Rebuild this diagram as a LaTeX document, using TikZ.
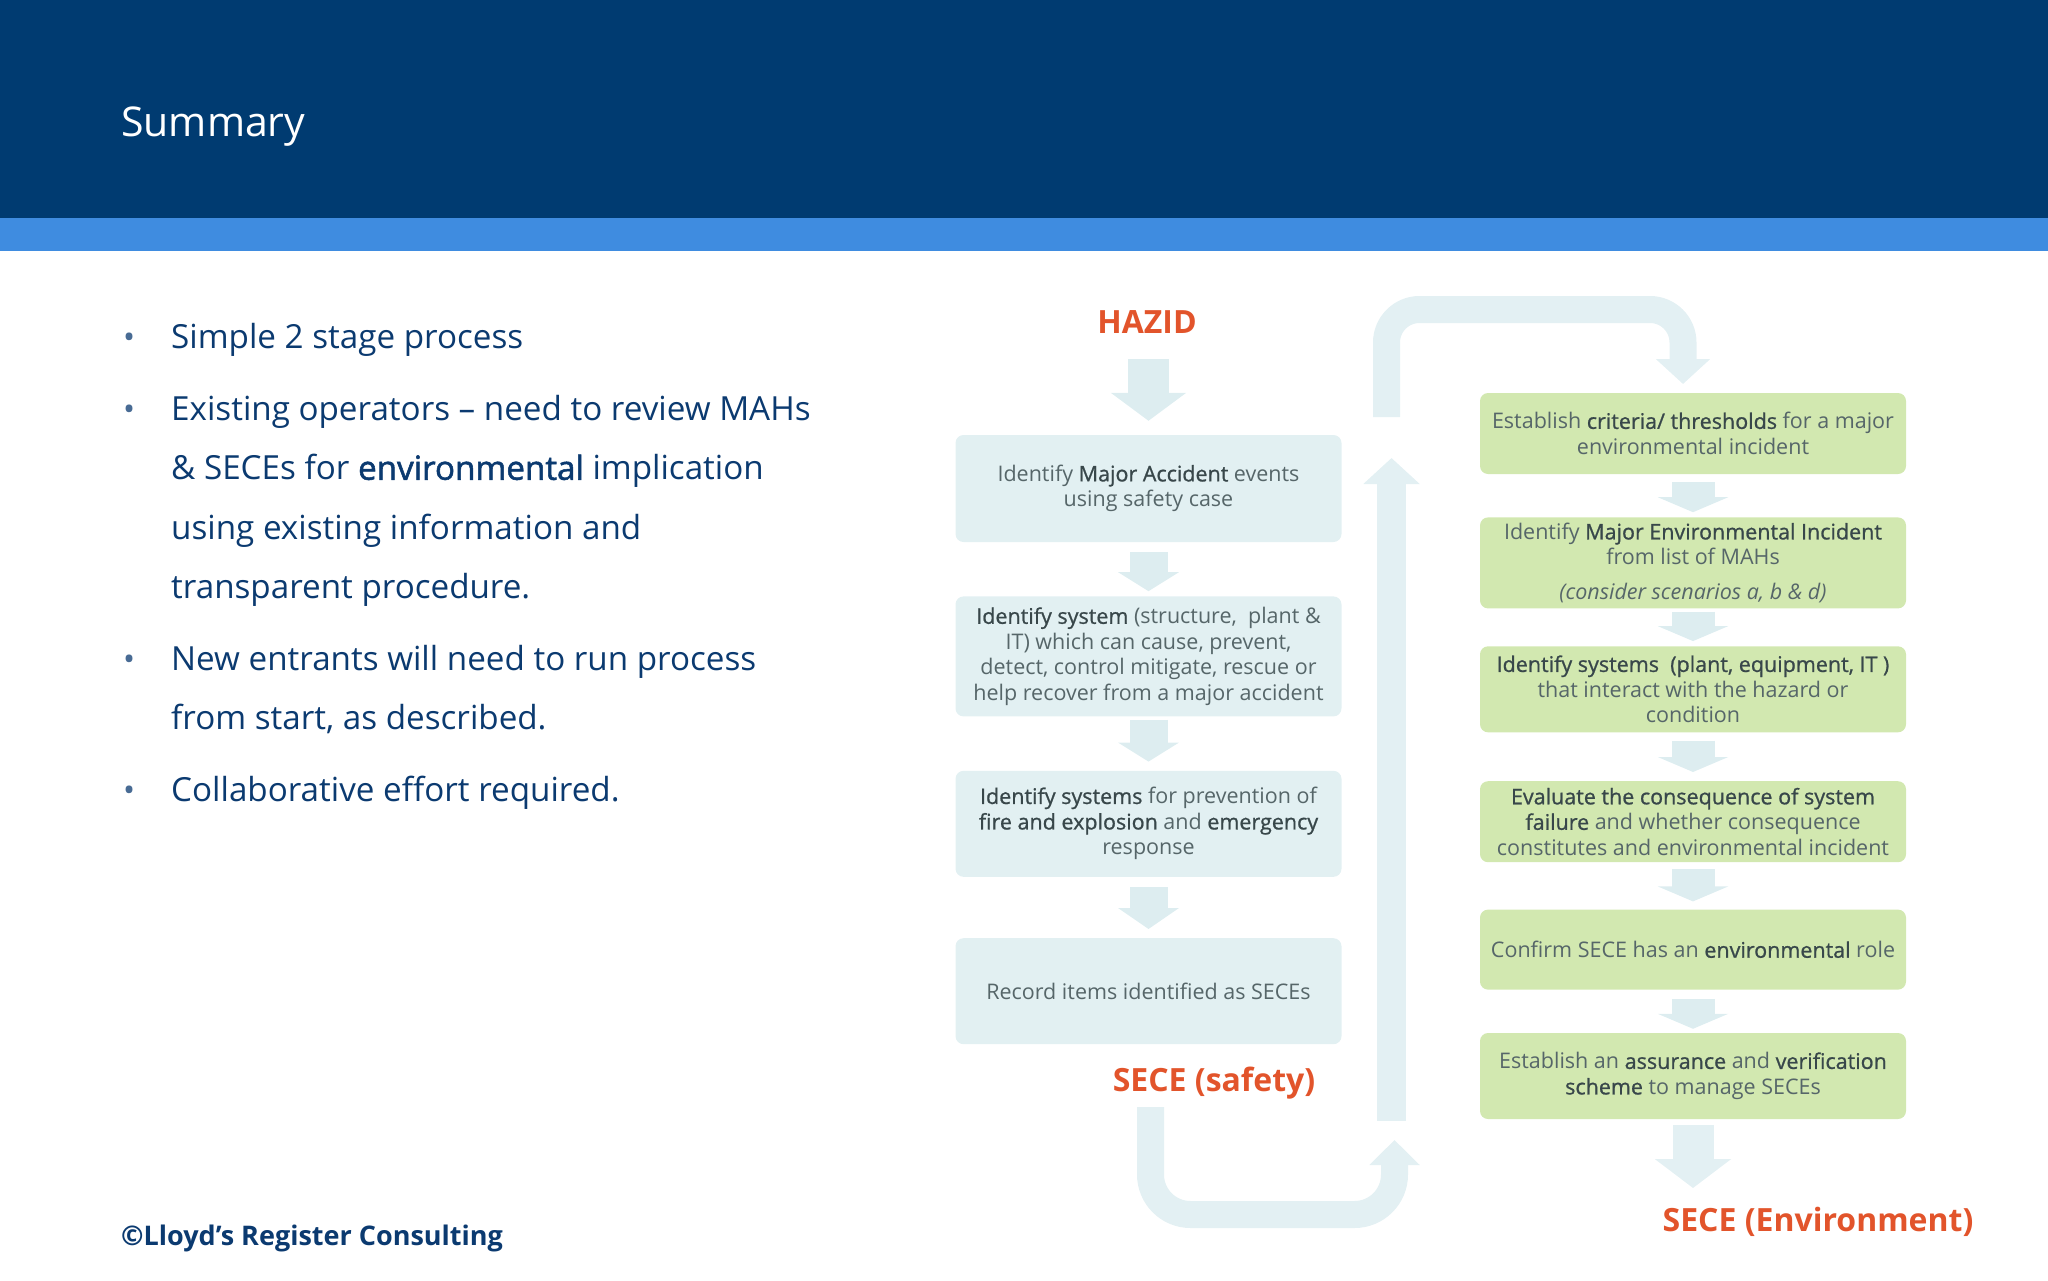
\documentclass[tikz,border=0pt]{standalone}
\usepackage{fontspec}
\setmainfont{Open Sans}
\newfontfamily\medfont[FakeBold=0.9]{Open Sans}
\newfontfamily\strongfont[FakeBold=1.6]{Open Sans}
\usetikzlibrary{positioning}
\usetikzlibrary{arrows.meta}
\definecolor{headnavy}{HTML}{003B71}
\definecolor{stripeblue}{HTML}{3F8CE0}
\definecolor{textnavy}{HTML}{0B3A70}
\definecolor{paleblue}{HTML}{E2F0F2}
\definecolor{palegreen}{HTML}{D2E8B0}
\definecolor{arrowblue}{HTML}{DDEDF0}
\definecolor{loopblue}{HTML}{E3F0F3}
\definecolor{boxtext}{HTML}{566669}
\definecolor{boldtext}{HTML}{38474A}
\definecolor{labelred}{HTML}{E2542B}
\newcommand{\bulletmark}{\llap{\fontsize{32}{32}\selectfont\textcolor{textnavy!75}{\textbullet}\hspace{36pt}}}
\newcommand{\hot}[1]{{\medfont\color{boldtext}#1}}
\tikzset{
  bluebox/.style={rectangle, rounded corners=8pt, fill=paleblue, minimum width=386pt, inner sep=0pt, text centered, text=boxtext, font=\fontsize{21.5}{25.5}\selectfont, align=center},
  greenbox/.style={rectangle, rounded corners=8pt, fill=palegreen, minimum width=426pt, inner sep=0pt, text centered, text=boxtext, font=\fontsize{21.5}{25.5}\selectfont, align=center},
  bullettext/.style={inner sep=0pt, text=textnavy, font=\fontsize{33.2}{59.5}\selectfont, align=left},
  stagelabel/.style={inner sep=0pt, text=labelred, font=\fontsize{32}{36}\selectfont\bfseries},
  blockarrow/.style n args={3}{draw=arrowblue, line width=#1, -{Triangle[width=#2,length=#3]}},
  smallarrow/.style={blockarrow={38pt}{60pt}{19pt}},
  greenarrow/.style={blockarrow={43pt}{70pt}{15pt}}
}
\begin{document}
\begin{tikzpicture}[x=1pt, y=-1pt]
    \useasboundingbox (0,0) rectangle (2048,1280);

    % Header
    \fill[headnavy] (0,0) rectangle (2048,218);
    \fill[stripeblue] (0,218) rectangle (2048,251);
    \node (title) [anchor=west, inner sep=0pt, text=white, font=\fontsize{41}{46}\selectfont] at (121,127) {Summary};

    % Bullets
    \node (point1) [bullettext, anchor=north west] at (171,307) {\strut\bulletmark Simple 2 stage process\strut};
    \node (point2) [bullettext, below=11.5pt of point1.south west, anchor=north west] {\strut\bulletmark Existing operators -- need to review MAHs\\
      \& SECEs for {\strongfont environmental} implication\\
      using existing information and\\
      transparent procedure.\strut};
    \node (point3) [bullettext, below=11.5pt of point2.south west, anchor=north west] {\strut\bulletmark New entrants will need to run process\\
      from start, as described.\strut};
    \node (point4) [bullettext, below=11.5pt of point3.south west, anchor=north west] {\strut\bulletmark Collaborative effort required.\strut};
    \node (footer) [anchor=west, inner sep=0pt, text=textnavy, font=\fontsize{27}{32}\selectfont\bfseries] at (121,1238) {©Lloyd’s Register Consulting};

    % Left column
    \node (accident) [bluebox, minimum height=107pt] at (1148.5,488.5) {Identify \hot{Major Accident} events\\using safety case};
    \node (system) [bluebox, minimum height=120pt, below=54pt of accident] {\hot{Identify system} (structure,~ plant \&\\IT) which can cause, prevent,\\detect, control mitigate, rescue or\\help recover from a major accident};
    \node (prevention) [bluebox, minimum height=106pt, below=54pt of system] {\hot{Identify systems} for prevention of\\\hot{fire and explosion} and \hot{emergency}\\response};
    \node (record) [bluebox, minimum height=106pt, below=61pt of prevention] {Record items identified as SECEs};

    % Right column
    \node (criteria) [greenbox, minimum height=81pt] at (1693,433.5) {Establish \hot{criteria/ thresholds} for a major\\environmental incident};
    \node (incident) [greenbox, minimum height=91pt, below=43pt of criteria] {Identify \hot{Major Environmental Incident}\\from list of MAHs\\[9pt]\textit{(consider scenarios a, b \& d)}};
    \node (interact) [greenbox, minimum height=86pt, below=37.5pt of incident] {\hot{Identify systems~ (plant, equipment, IT )}\\that interact with the hazard or\\condition};
    \node (evaluate) [greenbox, minimum height=81pt, below=48.5pt of interact] {\hot{Evaluate the consequence of system}\\\hot{failure} and whether consequence\\constitutes and environmental incident};
    \node (confirm) [greenbox, minimum height=80pt, below=47pt of evaluate] {Confirm SECE has an \hot{environmental} role};
    \node (scheme) [greenbox, minimum height=86pt, below=43pt of confirm] {Establish an \hot{assurance} and \hot{verification}\\\hot{scheme} to manage SECEs};

    % Labels
    \node (hazid) [stagelabel] at (1147,322) {HAZID};
    \node (safety) [stagelabel] at (1214,1083) {SECE (safety)};
    \node (environment) [stagelabel] at (1818,1222) {SECE (Environment)};

    % Free ends of the long arrows
    \coordinate (hazidfoot) at (1148.5,359);
    \coordinate (safetyfoot) at (1150.5,1107);
    \coordinate (safetyturn1) at (1150.5,1214.5);
    \coordinate (safetyturn2) at (1394.5,1214.5);
    \coordinate (safetytip) at (1394.5,1140);
    \coordinate (riselow) at (1391.5,1121);
    \coordinate (risetip) at (1391.5,458);
    \coordinate (loopfoot) at (1386.5,417);
    \coordinate (loopturn1) at (1386.5,309.5);
    \coordinate (loopturn2) at (1683,309.5);
    \coordinate (looptip) at (1683,384);
    \coordinate (envtip) at (1693,1188);

    % Arrows
    \draw [blockarrow={41pt}{74pt}{28pt}, shorten >=14pt] (hazidfoot) -- (accident.north);
    \draw [smallarrow, shorten <=10pt, shorten >=5pt] (accident) -- (system);
    \draw [smallarrow, shorten <=3pt, shorten >=9pt] (system) -- (prevention);
    \draw [blockarrow={38pt}{60pt}{21pt}, shorten <=10pt, shorten >=9pt] (prevention) -- (record);
    \draw [blockarrow={29pt}{55pt}{26pt}, draw=loopblue] (riselow) -- (risetip);
    \draw [blockarrow={27pt}{49pt}{25pt}, draw=loopblue, rounded corners=40pt] (safetyfoot) -- (safetyturn1) -- (safetyturn2) -- (safetytip);
    \draw [blockarrow={27pt}{53pt}{25pt}, draw=loopblue, rounded corners=33pt] (loopfoot) -- (loopturn1) -- (loopturn2) -- (looptip);
    \draw [greenarrow, shorten <=8pt, shorten >=5pt] (criteria) -- (incident);
    \draw [greenarrow, shorten <=3pt, shorten >=5pt] (incident) -- (interact);
    \draw [greenarrow, shorten <=8pt, shorten >=9pt] (interact) -- (evaluate);
    \draw [greenarrow, shorten <=7pt, shorten >=8pt] (evaluate) -- (confirm);
    \draw [greenarrow, shorten <=9pt, shorten >=4pt] (confirm) -- (scheme);
    \draw [blockarrow={41pt}{75pt}{29pt}, draw=loopblue, shorten <=6pt] (scheme) -- (envtip);
\end{tikzpicture}
\end{document}
